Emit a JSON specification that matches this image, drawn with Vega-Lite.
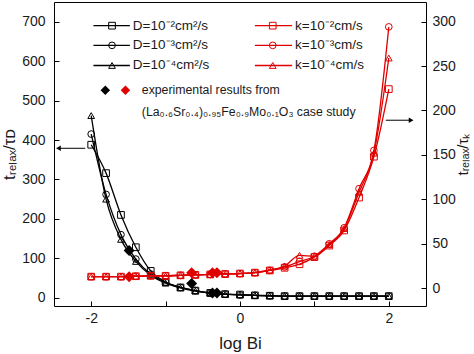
{
  "$schema": "https://vega.github.io/schema/vega-lite/v6.json",
  "width": 372,
  "height": 304,
  "autosize": {"type": "none"},
  "padding": {"left": 54, "top": 2, "right": 48, "bottom": 48},
  "background": "white",
  "config": {
    "font": "Liberation Sans",
    "view": {"stroke": "#000", "strokeWidth": 1},
    "axis": {"grid": false, "domain": false, "tickColor": "#000", "tickSize": -5, "tickWidth": 1, "labelFontSize": 14, "labelColor": "#1a1a1a", "titleFontSize": 17, "titleFontWeight": "normal", "titleColor": "#1a1a1a", "labelOverlap": false, "labelFlush": false, "labelFont": "Liberation Sans", "titleFont": "Liberation Sans"},
    "axisX": {"labelPadding": 10, "titlePadding": 10},
    "axisLeft": {"labelPadding": 14, "titlePadding": 3},
    "axisRight": {"labelPadding": 11, "titlePadding": 0, "titleBaseline": "top", "titleFontSize": 15}
  },
  "datasets": {
    "black": [
      {"s": "D2", "x": -2.0, "y": 388}, {"s": "D2", "x": -1.8, "y": 316}, {"s": "D2", "x": -1.6, "y": 210}, {"s": "D2", "x": -1.4, "y": 128}, {"s": "D2", "x": -1.2, "y": 68}, {"s": "D2", "x": -1.0, "y": 40}, {"s": "D2", "x": -0.8, "y": 26}, {"s": "D2", "x": -0.6, "y": 18}, {"s": "D2", "x": -0.4, "y": 12}, {"s": "D2", "x": -0.2, "y": 9}, {"s": "D2", "x": 0.0, "y": 8}, {"s": "D2", "x": 0.2, "y": 6}, {"s": "D2", "x": 0.4, "y": 5}, {"s": "D2", "x": 0.6, "y": 4}, {"s": "D2", "x": 0.8, "y": 4}, {"s": "D2", "x": 1.0, "y": 4}, {"s": "D2", "x": 1.2, "y": 4}, {"s": "D2", "x": 1.4, "y": 4}, {"s": "D2", "x": 1.6, "y": 4}, {"s": "D2", "x": 1.8, "y": 4}, {"s": "D2", "x": 2.0, "y": 4},
      {"s": "D3", "x": -2.0, "y": 415}, {"s": "D3", "x": -1.8, "y": 262}, {"s": "D3", "x": -1.6, "y": 160}, {"s": "D3", "x": -1.4, "y": 98}, {"s": "D3", "x": -1.2, "y": 60}, {"s": "D3", "x": -1.0, "y": 39}, {"s": "D3", "x": -0.8, "y": 26}, {"s": "D3", "x": -0.6, "y": 18}, {"s": "D3", "x": -0.4, "y": 12}, {"s": "D3", "x": -0.2, "y": 9}, {"s": "D3", "x": 0.0, "y": 7}, {"s": "D3", "x": 0.2, "y": 6}, {"s": "D3", "x": 0.4, "y": 5}, {"s": "D3", "x": 0.6, "y": 4}, {"s": "D3", "x": 0.8, "y": 4}, {"s": "D3", "x": 1.0, "y": 4}, {"s": "D3", "x": 1.2, "y": 4}, {"s": "D3", "x": 1.4, "y": 4}, {"s": "D3", "x": 1.6, "y": 4}, {"s": "D3", "x": 1.8, "y": 4}, {"s": "D3", "x": 2.0, "y": 4},
      {"s": "D4", "x": -2.0, "y": 462}, {"s": "D4", "x": -1.8, "y": 250}, {"s": "D4", "x": -1.6, "y": 148}, {"s": "D4", "x": -1.4, "y": 92}, {"s": "D4", "x": -1.2, "y": 57}, {"s": "D4", "x": -1.0, "y": 37}, {"s": "D4", "x": -0.8, "y": 25}, {"s": "D4", "x": -0.6, "y": 17}, {"s": "D4", "x": -0.4, "y": 12}, {"s": "D4", "x": -0.2, "y": 9}, {"s": "D4", "x": 0.0, "y": 7}, {"s": "D4", "x": 0.2, "y": 6}, {"s": "D4", "x": 0.4, "y": 5}, {"s": "D4", "x": 0.6, "y": 4}, {"s": "D4", "x": 0.8, "y": 4}, {"s": "D4", "x": 1.0, "y": 4}, {"s": "D4", "x": 1.2, "y": 4}, {"s": "D4", "x": 1.4, "y": 4}, {"s": "D4", "x": 1.6, "y": 4}, {"s": "D4", "x": 1.8, "y": 4}, {"s": "D4", "x": 2.0, "y": 4}
    ],
    "red": [
      {"s": "k2", "x": -2.0, "y": 13}, {"s": "k2", "x": -1.8, "y": 13}, {"s": "k2", "x": -1.6, "y": 13}, {"s": "k2", "x": -1.4, "y": 13.5}, {"s": "k2", "x": -1.2, "y": 14}, {"s": "k2", "x": -1.0, "y": 14}, {"s": "k2", "x": -0.8, "y": 14.5}, {"s": "k2", "x": -0.6, "y": 15}, {"s": "k2", "x": -0.4, "y": 15.5}, {"s": "k2", "x": -0.2, "y": 16}, {"s": "k2", "x": 0.0, "y": 16.5}, {"s": "k2", "x": 0.2, "y": 17.5}, {"s": "k2", "x": 0.4, "y": 20}, {"s": "k2", "x": 0.6, "y": 23}, {"s": "k2", "x": 0.8, "y": 27}, {"s": "k2", "x": 1.0, "y": 35}, {"s": "k2", "x": 1.2, "y": 48}, {"s": "k2", "x": 1.4, "y": 65}, {"s": "k2", "x": 1.6, "y": 102}, {"s": "k2", "x": 1.8, "y": 148}, {"s": "k2", "x": 2.0, "y": 224},
      {"s": "k3", "x": -2.0, "y": 13}, {"s": "k3", "x": -1.8, "y": 13}, {"s": "k3", "x": -1.6, "y": 13}, {"s": "k3", "x": -1.4, "y": 13.5}, {"s": "k3", "x": -1.2, "y": 14}, {"s": "k3", "x": -1.0, "y": 14}, {"s": "k3", "x": -0.8, "y": 14.5}, {"s": "k3", "x": -0.6, "y": 15}, {"s": "k3", "x": -0.4, "y": 15.5}, {"s": "k3", "x": -0.2, "y": 16}, {"s": "k3", "x": 0.0, "y": 16.5}, {"s": "k3", "x": 0.2, "y": 17.5}, {"s": "k3", "x": 0.4, "y": 20}, {"s": "k3", "x": 0.6, "y": 24}, {"s": "k3", "x": 0.8, "y": 30}, {"s": "k3", "x": 1.0, "y": 36}, {"s": "k3", "x": 1.2, "y": 50}, {"s": "k3", "x": 1.4, "y": 68}, {"s": "k3", "x": 1.6, "y": 112}, {"s": "k3", "x": 1.8, "y": 155}, {"s": "k3", "x": 2.0, "y": 294},
      {"s": "k4", "x": -2.0, "y": 13}, {"s": "k4", "x": -1.8, "y": 13}, {"s": "k4", "x": -1.6, "y": 13}, {"s": "k4", "x": -1.4, "y": 13.5}, {"s": "k4", "x": -1.2, "y": 14}, {"s": "k4", "x": -1.0, "y": 14}, {"s": "k4", "x": -0.8, "y": 14.5}, {"s": "k4", "x": -0.6, "y": 15}, {"s": "k4", "x": -0.4, "y": 15.5}, {"s": "k4", "x": -0.2, "y": 16}, {"s": "k4", "x": 0.0, "y": 16.5}, {"s": "k4", "x": 0.2, "y": 17.5}, {"s": "k4", "x": 0.4, "y": 20.5}, {"s": "k4", "x": 0.6, "y": 25}, {"s": "k4", "x": 0.8, "y": 37}, {"s": "k4", "x": 1.0, "y": 36}, {"s": "k4", "x": 1.2, "y": 49}, {"s": "k4", "x": 1.4, "y": 67}, {"s": "k4", "x": 1.6, "y": 108}, {"s": "k4", "x": 1.8, "y": 152}, {"s": "k4", "x": 2.0, "y": 259}
    ],
    "expBlack": [
      {"x": -1.49, "y": 120}, {"x": -0.65, "y": 36}, {"x": -0.37, "y": 12}, {"x": -0.31, "y": 12}
    ],
    "expRed": [
      {"x": -1.49, "y": 13}, {"x": -0.65, "y": 17.5}, {"x": -0.37, "y": 17.5}, {"x": -0.31, "y": 17.5}
    ],
    "legendLines": [
      {"s": "D2", "x": -1.97, "y": 690}, {"s": "D2", "x": -1.48, "y": 690},
      {"s": "D3", "x": -1.97, "y": 640}, {"s": "D3", "x": -1.48, "y": 640},
      {"s": "D4", "x": -1.97, "y": 589}, {"s": "D4", "x": -1.48, "y": 589},
      {"s": "k2", "x": 0.2, "y": 690}, {"s": "k2", "x": 0.7, "y": 690},
      {"s": "k3", "x": 0.2, "y": 640}, {"s": "k3", "x": 0.7, "y": 640},
      {"s": "k4", "x": 0.2, "y": 589}, {"s": "k4", "x": 0.7, "y": 589}
    ],
    "legendMarks": [
      {"s": "D2", "x": -1.72, "y": 690}, {"s": "D3", "x": -1.72, "y": 640}, {"s": "D4", "x": -1.72, "y": 589},
      {"s": "k2", "x": 0.44, "y": 690}, {"s": "k3", "x": 0.44, "y": 640}, {"s": "k4", "x": 0.44, "y": 589}
    ],
    "legendDiamonds": [
      {"s": "D2", "x": -1.81, "y": 526}, {"s": "k2", "x": -1.54, "y": 526}
    ],
    "legendText": [
      {"x": -1.44, "y": 690, "t": "D=10⁻²cm²/s"},
      {"x": -1.44, "y": 640, "t": "D=10⁻³cm²/s"},
      {"x": -1.44, "y": 589, "t": "D=10⁻⁴cm²/s"},
      {"x": 0.74, "y": 690, "t": "k=10⁻²cm/s"},
      {"x": 0.74, "y": 640, "t": "k=10⁻³cm/s"},
      {"x": 0.74, "y": 589, "t": "k=10⁻⁴cm/s"}
    ],
    "noteText": [
      {"x": -1.32, "y": 526, "t": "experimental results from"},
      {"x": -1.32, "y": 470, "t": "(La₀.₆Sr₀.₄)₀.₉₅Fe₀.₉Mo₀.₁O₃ case study"}
    ],
    "arrowLeft": [{"x": -2.08, "x2": -2.44, "y": 379}],
    "arrowRight": [{"x": 1.96, "x2": 2.3, "y": 189}]
  },
  "layer": [
    {
      "layer": [
        {
          "data": {"name": "black"},
          "mark": {"type": "line", "interpolate": "monotone", "strokeWidth": 1.3},
          "encoding": {
            "x": {"field": "x", "type": "quantitative", "scale": {"domain": [-2.5, 2.5], "nice": false}, "axis": {"title": "log Bi", "values": [-2, -1, 0, 1, 2], "labelExpr": "datum.value % 2 === 0 ? toString(datum.value) : ''"}},
            "y": {"field": "y", "type": "quantitative", "scale": {"domain": [-21, 750], "nice": false, "zero": false}, "axis": {"orient": "left", "title": "tᵣₑₗₐₓ/τᴅ", "values": [0, 50, 100, 150, 200, 250, 300, 350, 400, 450, 500, 550, 600, 650, 700], "labelExpr": "datum.value % 100 === 0 ? datum.label : ''"}},
            "detail": {"field": "s"},
            "color": {"field": "s", "type": "nominal", "scale": {"domain": ["D2", "D3", "D4", "k2", "k3", "k4"], "range": ["#000", "#000", "#000", "#e00000", "#e00000", "#e00000"]}, "legend": null}
          }
        },
        {
          "data": {"name": "black"},
          "mark": {"type": "point", "filled": false, "size": 45, "strokeWidth": 1, "opacity": 1},
          "encoding": {
            "x": {"field": "x", "type": "quantitative"},
            "y": {"field": "y", "type": "quantitative"},
            "color": {"field": "s", "type": "nominal", "legend": null},
            "shape": {"field": "s", "type": "nominal", "scale": {"domain": ["D2", "D3", "D4", "k2", "k3", "k4"], "range": ["square", "circle", "triangle-up", "square", "circle", "triangle-up"]}, "legend": null}
          }
        },
        {
          "data": {"name": "expBlack"},
          "mark": {"type": "point", "filled": true, "shape": "diamond", "size": 120, "color": "#000", "opacity": 1},
          "encoding": {
            "x": {"field": "x", "type": "quantitative"},
            "y": {"field": "y", "type": "quantitative"}
          }
        },
        {
          "data": {"name": "legendLines"},
          "mark": {"type": "line", "strokeWidth": 1.3},
          "encoding": {
            "x": {"field": "x", "type": "quantitative"},
            "y": {"field": "y", "type": "quantitative"},
            "detail": {"field": "s"},
            "color": {"field": "s", "type": "nominal", "legend": null}
          }
        },
        {
          "data": {"name": "legendMarks"},
          "mark": {"type": "point", "filled": false, "size": 45, "strokeWidth": 1, "opacity": 1},
          "encoding": {
            "x": {"field": "x", "type": "quantitative"},
            "y": {"field": "y", "type": "quantitative"},
            "color": {"field": "s", "type": "nominal", "legend": null},
            "shape": {"field": "s", "type": "nominal", "legend": null}
          }
        },
        {
          "data": {"name": "legendDiamonds"},
          "mark": {"type": "point", "filled": true, "shape": "diamond", "size": 90, "opacity": 1},
          "encoding": {
            "x": {"field": "x", "type": "quantitative"},
            "y": {"field": "y", "type": "quantitative"},
            "color": {"field": "s", "type": "nominal", "legend": null}
          }
        },
        {
          "data": {"name": "legendText"},
          "mark": {"type": "text", "align": "left", "baseline": "middle", "fontSize": 13.5, "color": "#1a1a1a", "font": "Liberation Sans"},
          "encoding": {
            "x": {"field": "x", "type": "quantitative"},
            "y": {"field": "y", "type": "quantitative"},
            "text": {"field": "t"}
          }
        },
        {
          "data": {"name": "noteText"},
          "mark": {"type": "text", "align": "left", "baseline": "middle", "fontSize": 12.3, "color": "#1a1a1a", "font": "Liberation Sans"},
          "encoding": {
            "x": {"field": "x", "type": "quantitative"},
            "y": {"field": "y", "type": "quantitative"},
            "text": {"field": "t"}
          }
        },
        {
          "data": {"name": "arrowLeft"},
          "mark": {"type": "rule", "color": "#000", "strokeWidth": 1},
          "encoding": {
            "x": {"field": "x", "type": "quantitative"},
            "x2": {"field": "x2"},
            "y": {"field": "y", "type": "quantitative"}
          }
        },
        {
          "data": {"name": "arrowLeft"},
          "mark": {"type": "point", "shape": "triangle-left", "filled": true, "size": 30, "color": "#000", "opacity": 1},
          "encoding": {
            "x": {"field": "x2", "type": "quantitative"},
            "y": {"field": "y", "type": "quantitative"}
          }
        }
      ]
    },
    {
      "layer": [
        {
          "data": {"name": "red"},
          "mark": {"type": "line", "interpolate": "monotone", "strokeWidth": 1.3},
          "encoding": {
            "x": {"field": "x", "type": "quantitative"},
            "y": {"field": "y", "type": "quantitative", "scale": {"domain": [-20, 322], "nice": false, "zero": false}, "axis": {"orient": "right", "title": "tᵣₑₗₐₓ/τₖ", "titleAngle": 270, "values": [-25, 0, 25, 50, 75, 100, 125, 150, 175, 200, 225, 250, 275, 300], "labelExpr": "datum.value % 50 === 0 && datum.value >= 0 ? datum.label : ''"}},
            "detail": {"field": "s"},
            "color": {"field": "s", "type": "nominal", "legend": null}
          }
        },
        {
          "data": {"name": "red"},
          "mark": {"type": "point", "filled": false, "size": 45, "strokeWidth": 1, "opacity": 1},
          "encoding": {
            "x": {"field": "x", "type": "quantitative"},
            "y": {"field": "y", "type": "quantitative"},
            "color": {"field": "s", "type": "nominal", "legend": null},
            "shape": {"field": "s", "type": "nominal", "legend": null}
          }
        },
        {
          "data": {"name": "expRed"},
          "mark": {"type": "point", "filled": true, "shape": "diamond", "size": 120, "color": "#e00000", "opacity": 1},
          "encoding": {
            "x": {"field": "x", "type": "quantitative"},
            "y": {"field": "y", "type": "quantitative"}
          }
        },
        {
          "data": {"name": "arrowRight"},
          "mark": {"type": "rule", "color": "#000", "strokeWidth": 1},
          "encoding": {
            "x": {"field": "x", "type": "quantitative"},
            "x2": {"field": "x2"},
            "y": {"field": "y", "type": "quantitative"}
          }
        },
        {
          "data": {"name": "arrowRight"},
          "mark": {"type": "point", "shape": "triangle-right", "filled": true, "size": 30, "color": "#000", "opacity": 1},
          "encoding": {
            "x": {"field": "x2", "type": "quantitative"},
            "y": {"field": "y", "type": "quantitative"}
          }
        }
      ]
    }
  ],
  "resolve": {"scale": {"y": "independent"}}
}
